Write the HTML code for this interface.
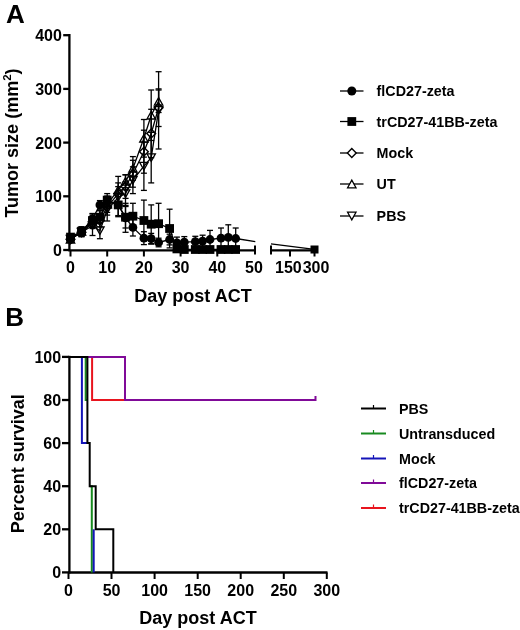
<!DOCTYPE html>
<html><head><meta charset="utf-8"><title>Figure</title>
<style>
html,body{margin:0;padding:0;background:#fff;}
svg{display:block;}
text{font-family:"Liberation Sans",Arial,Helvetica,sans-serif;font-weight:bold;fill:#000;}
</style></head><body>
<svg width="520" height="630" viewBox="0 0 520 630">
<rect width="520" height="630" fill="#fff"/>
<text x="6" y="23.2" font-size="26" text-anchor="start" >A</text>
<line x1="69.4" y1="34.0" x2="69.4" y2="251.0" stroke="#000" stroke-width="2.3"/>
<line x1="68.3" y1="250.3" x2="255.0" y2="250.3" stroke="#000" stroke-width="2.3"/>
<line x1="271.0" y1="250.3" x2="315.0" y2="250.3" stroke="#000" stroke-width="2.3"/>
<line x1="63.2" y1="250.0" x2="69.0" y2="250.0" stroke="#000" stroke-width="2.3"/>
<text x="61.9" y="256.0" font-size="16" text-anchor="end" >0</text>
<line x1="63.2" y1="196.3" x2="69.0" y2="196.3" stroke="#000" stroke-width="2.3"/>
<text x="61.9" y="202.3" font-size="16" text-anchor="end" >100</text>
<line x1="63.2" y1="142.6" x2="69.0" y2="142.6" stroke="#000" stroke-width="2.3"/>
<text x="61.9" y="148.6" font-size="16" text-anchor="end" >200</text>
<line x1="63.2" y1="88.9" x2="69.0" y2="88.9" stroke="#000" stroke-width="2.3"/>
<text x="61.9" y="94.89999999999998" font-size="16" text-anchor="end" >300</text>
<line x1="63.2" y1="35.2" x2="69.0" y2="35.2" stroke="#000" stroke-width="2.3"/>
<text x="61.9" y="41.19999999999999" font-size="16" text-anchor="end" >400</text>
<line x1="70.5" y1="250.0" x2="70.5" y2="256.5" stroke="#000" stroke-width="2"/>
<text x="70.5" y="272.5" font-size="16" text-anchor="middle" >0</text>
<line x1="107.2" y1="250.0" x2="107.2" y2="256.5" stroke="#000" stroke-width="2"/>
<text x="107.2" y="272.5" font-size="16" text-anchor="middle" >10</text>
<line x1="143.9" y1="250.0" x2="143.9" y2="256.5" stroke="#000" stroke-width="2"/>
<text x="143.9" y="272.5" font-size="16" text-anchor="middle" >20</text>
<line x1="180.6" y1="250.0" x2="180.6" y2="256.5" stroke="#000" stroke-width="2"/>
<text x="180.6" y="272.5" font-size="16" text-anchor="middle" >30</text>
<line x1="217.3" y1="250.0" x2="217.3" y2="256.5" stroke="#000" stroke-width="2"/>
<text x="217.3" y="272.5" font-size="16" text-anchor="middle" >40</text>
<text x="254.0" y="272.5" font-size="16" text-anchor="middle" >50</text>
<line x1="255.0" y1="245.5" x2="255.0" y2="254.5" stroke="#000" stroke-width="2"/>
<line x1="271.0" y1="245.5" x2="271.0" y2="254.5" stroke="#000" stroke-width="2"/>
<line x1="290.0" y1="250.0" x2="290.0" y2="256.5" stroke="#000" stroke-width="2"/>
<text x="288.4" y="272.5" font-size="16" text-anchor="middle" >150</text>
<line x1="314.5" y1="250.0" x2="314.5" y2="256.5" stroke="#000" stroke-width="2"/>
<text x="316" y="272.5" font-size="16" text-anchor="middle" >300</text>
<text transform="translate(17.5,143) rotate(-90)" font-size="18" text-anchor="middle">Tumor size (mm<tspan dy="-6.5" font-size="11.5">2</tspan><tspan dy="6.5">)</tspan></text>
<text x="193" y="301.5" font-size="18" text-anchor="middle" >Day post ACT</text>
<line x1="70.5" y1="236.6" x2="70.5" y2="241.9" stroke="#000" stroke-width="1.3"/>
<line x1="67.5" y1="236.6" x2="73.5" y2="236.6" stroke="#000" stroke-width="1.3"/>
<line x1="67.5" y1="241.9" x2="73.5" y2="241.9" stroke="#000" stroke-width="1.3"/>
<line x1="81.5" y1="227.4" x2="81.5" y2="236.0" stroke="#000" stroke-width="1.3"/>
<line x1="78.5" y1="227.4" x2="84.5" y2="227.4" stroke="#000" stroke-width="1.3"/>
<line x1="78.5" y1="236.0" x2="84.5" y2="236.0" stroke="#000" stroke-width="1.3"/>
<line x1="92.5" y1="213.5" x2="92.5" y2="224.2" stroke="#000" stroke-width="1.3"/>
<line x1="89.5" y1="213.5" x2="95.5" y2="213.5" stroke="#000" stroke-width="1.3"/>
<line x1="89.5" y1="224.2" x2="95.5" y2="224.2" stroke="#000" stroke-width="1.3"/>
<line x1="99.9" y1="200.6" x2="99.9" y2="209.2" stroke="#000" stroke-width="1.3"/>
<line x1="96.9" y1="200.6" x2="102.9" y2="200.6" stroke="#000" stroke-width="1.3"/>
<line x1="96.9" y1="209.2" x2="102.9" y2="209.2" stroke="#000" stroke-width="1.3"/>
<line x1="107.2" y1="196.3" x2="107.2" y2="207.0" stroke="#000" stroke-width="1.3"/>
<line x1="104.2" y1="196.3" x2="110.2" y2="196.3" stroke="#000" stroke-width="1.3"/>
<line x1="104.2" y1="207.0" x2="110.2" y2="207.0" stroke="#000" stroke-width="1.3"/>
<line x1="118.2" y1="194.2" x2="118.2" y2="215.6" stroke="#000" stroke-width="1.3"/>
<line x1="115.2" y1="194.2" x2="121.2" y2="194.2" stroke="#000" stroke-width="1.3"/>
<line x1="115.2" y1="215.6" x2="121.2" y2="215.6" stroke="#000" stroke-width="1.3"/>
<line x1="125.5" y1="203.3" x2="125.5" y2="232.3" stroke="#000" stroke-width="1.3"/>
<line x1="122.5" y1="203.3" x2="128.6" y2="203.3" stroke="#000" stroke-width="1.3"/>
<line x1="122.5" y1="232.3" x2="128.6" y2="232.3" stroke="#000" stroke-width="1.3"/>
<line x1="132.9" y1="218.9" x2="132.9" y2="236.0" stroke="#000" stroke-width="1.3"/>
<line x1="129.9" y1="218.9" x2="135.9" y2="218.9" stroke="#000" stroke-width="1.3"/>
<line x1="129.9" y1="236.0" x2="135.9" y2="236.0" stroke="#000" stroke-width="1.3"/>
<line x1="143.9" y1="231.7" x2="143.9" y2="244.6" stroke="#000" stroke-width="1.3"/>
<line x1="140.9" y1="231.7" x2="146.9" y2="231.7" stroke="#000" stroke-width="1.3"/>
<line x1="140.9" y1="244.6" x2="146.9" y2="244.6" stroke="#000" stroke-width="1.3"/>
<line x1="151.2" y1="233.4" x2="151.2" y2="244.1" stroke="#000" stroke-width="1.3"/>
<line x1="148.2" y1="233.4" x2="154.2" y2="233.4" stroke="#000" stroke-width="1.3"/>
<line x1="148.2" y1="244.1" x2="154.2" y2="244.1" stroke="#000" stroke-width="1.3"/>
<line x1="158.6" y1="238.2" x2="158.6" y2="246.8" stroke="#000" stroke-width="1.3"/>
<line x1="155.6" y1="238.2" x2="161.6" y2="238.2" stroke="#000" stroke-width="1.3"/>
<line x1="155.6" y1="246.8" x2="161.6" y2="246.8" stroke="#000" stroke-width="1.3"/>
<line x1="169.6" y1="234.2" x2="169.6" y2="244.9" stroke="#000" stroke-width="1.3"/>
<line x1="166.6" y1="234.2" x2="172.6" y2="234.2" stroke="#000" stroke-width="1.3"/>
<line x1="166.6" y1="244.9" x2="172.6" y2="244.9" stroke="#000" stroke-width="1.3"/>
<line x1="176.9" y1="237.1" x2="176.9" y2="248.4" stroke="#000" stroke-width="1.3"/>
<line x1="173.9" y1="237.1" x2="179.9" y2="237.1" stroke="#000" stroke-width="1.3"/>
<line x1="173.9" y1="248.4" x2="179.9" y2="248.4" stroke="#000" stroke-width="1.3"/>
<line x1="184.3" y1="236.6" x2="184.3" y2="247.9" stroke="#000" stroke-width="1.3"/>
<line x1="181.3" y1="236.6" x2="187.3" y2="236.6" stroke="#000" stroke-width="1.3"/>
<line x1="181.3" y1="247.9" x2="187.3" y2="247.9" stroke="#000" stroke-width="1.3"/>
<line x1="195.3" y1="236.3" x2="195.3" y2="247.0" stroke="#000" stroke-width="1.3"/>
<line x1="192.3" y1="236.3" x2="198.3" y2="236.3" stroke="#000" stroke-width="1.3"/>
<line x1="192.3" y1="247.0" x2="198.3" y2="247.0" stroke="#000" stroke-width="1.3"/>
<line x1="202.6" y1="235.2" x2="202.6" y2="247.0" stroke="#000" stroke-width="1.3"/>
<line x1="199.6" y1="235.2" x2="205.6" y2="235.2" stroke="#000" stroke-width="1.3"/>
<line x1="199.6" y1="247.0" x2="205.6" y2="247.0" stroke="#000" stroke-width="1.3"/>
<line x1="210.0" y1="230.4" x2="210.0" y2="248.7" stroke="#000" stroke-width="1.3"/>
<line x1="207.0" y1="230.4" x2="213.0" y2="230.4" stroke="#000" stroke-width="1.3"/>
<line x1="207.0" y1="248.7" x2="213.0" y2="248.7" stroke="#000" stroke-width="1.3"/>
<line x1="221.0" y1="228.0" x2="221.0" y2="248.4" stroke="#000" stroke-width="1.3"/>
<line x1="218.0" y1="228.0" x2="224.0" y2="228.0" stroke="#000" stroke-width="1.3"/>
<line x1="218.0" y1="248.4" x2="224.0" y2="248.4" stroke="#000" stroke-width="1.3"/>
<line x1="228.3" y1="224.8" x2="228.3" y2="250.0" stroke="#000" stroke-width="1.3"/>
<line x1="225.3" y1="224.8" x2="231.3" y2="224.8" stroke="#000" stroke-width="1.3"/>
<line x1="225.3" y1="250.0" x2="231.3" y2="250.0" stroke="#000" stroke-width="1.3"/>
<line x1="235.7" y1="228.0" x2="235.7" y2="248.9" stroke="#000" stroke-width="1.3"/>
<line x1="232.7" y1="228.0" x2="238.7" y2="228.0" stroke="#000" stroke-width="1.3"/>
<line x1="232.7" y1="248.9" x2="238.7" y2="248.9" stroke="#000" stroke-width="1.3"/>
<polyline points="70.5,239.3 81.5,231.7 92.5,218.9 99.9,204.9 107.2,201.7 118.2,204.9 125.5,217.8 132.9,227.4 143.9,238.2 151.2,238.7 158.6,242.5 169.6,239.5 176.9,242.8 184.3,242.2 195.3,241.7 202.6,241.1 210.0,239.5 221.0,238.2 228.3,237.4 235.7,238.5 255.3,241.7" fill="none" stroke="#000" stroke-width="1.3"/>
<circle cx="70.5" cy="239.3" r="4.4" fill="#000"/>
<circle cx="81.5" cy="231.7" r="4.4" fill="#000"/>
<circle cx="92.5" cy="218.9" r="4.4" fill="#000"/>
<circle cx="99.9" cy="204.9" r="4.4" fill="#000"/>
<circle cx="107.2" cy="201.7" r="4.4" fill="#000"/>
<circle cx="118.2" cy="204.9" r="4.4" fill="#000"/>
<circle cx="125.5" cy="217.8" r="4.4" fill="#000"/>
<circle cx="132.9" cy="227.4" r="4.4" fill="#000"/>
<circle cx="143.9" cy="238.2" r="4.4" fill="#000"/>
<circle cx="151.2" cy="238.7" r="4.4" fill="#000"/>
<circle cx="158.6" cy="242.5" r="4.4" fill="#000"/>
<circle cx="169.6" cy="239.5" r="4.4" fill="#000"/>
<circle cx="176.9" cy="242.8" r="4.4" fill="#000"/>
<circle cx="184.3" cy="242.2" r="4.4" fill="#000"/>
<circle cx="195.3" cy="241.7" r="4.4" fill="#000"/>
<circle cx="202.6" cy="241.1" r="4.4" fill="#000"/>
<circle cx="210.0" cy="239.5" r="4.4" fill="#000"/>
<circle cx="221.0" cy="238.2" r="4.4" fill="#000"/>
<circle cx="228.3" cy="237.4" r="4.4" fill="#000"/>
<circle cx="235.7" cy="238.5" r="4.4" fill="#000"/>
<polyline points="271.0,243.8 314.5,249.3" fill="none" stroke="#000" stroke-width="1.3"/>
<line x1="70.5" y1="233.9" x2="70.5" y2="240.3" stroke="#000" stroke-width="1.3"/>
<line x1="67.5" y1="233.9" x2="73.5" y2="233.9" stroke="#000" stroke-width="1.3"/>
<line x1="67.5" y1="240.3" x2="73.5" y2="240.3" stroke="#000" stroke-width="1.3"/>
<line x1="81.5" y1="226.9" x2="81.5" y2="235.5" stroke="#000" stroke-width="1.3"/>
<line x1="78.5" y1="226.9" x2="84.5" y2="226.9" stroke="#000" stroke-width="1.3"/>
<line x1="78.5" y1="235.5" x2="84.5" y2="235.5" stroke="#000" stroke-width="1.3"/>
<line x1="92.5" y1="214.0" x2="92.5" y2="226.9" stroke="#000" stroke-width="1.3"/>
<line x1="89.5" y1="214.0" x2="95.5" y2="214.0" stroke="#000" stroke-width="1.3"/>
<line x1="89.5" y1="226.9" x2="95.5" y2="226.9" stroke="#000" stroke-width="1.3"/>
<line x1="99.9" y1="210.8" x2="99.9" y2="223.7" stroke="#000" stroke-width="1.3"/>
<line x1="96.9" y1="210.8" x2="102.9" y2="210.8" stroke="#000" stroke-width="1.3"/>
<line x1="96.9" y1="223.7" x2="102.9" y2="223.7" stroke="#000" stroke-width="1.3"/>
<line x1="107.2" y1="193.6" x2="107.2" y2="206.5" stroke="#000" stroke-width="1.3"/>
<line x1="104.2" y1="193.6" x2="110.2" y2="193.6" stroke="#000" stroke-width="1.3"/>
<line x1="104.2" y1="206.5" x2="110.2" y2="206.5" stroke="#000" stroke-width="1.3"/>
<line x1="118.2" y1="193.1" x2="118.2" y2="216.7" stroke="#000" stroke-width="1.3"/>
<line x1="115.2" y1="193.1" x2="121.2" y2="193.1" stroke="#000" stroke-width="1.3"/>
<line x1="115.2" y1="216.7" x2="121.2" y2="216.7" stroke="#000" stroke-width="1.3"/>
<line x1="125.5" y1="206.5" x2="125.5" y2="228.0" stroke="#000" stroke-width="1.3"/>
<line x1="122.5" y1="206.5" x2="128.6" y2="206.5" stroke="#000" stroke-width="1.3"/>
<line x1="122.5" y1="228.0" x2="128.6" y2="228.0" stroke="#000" stroke-width="1.3"/>
<line x1="132.9" y1="203.3" x2="132.9" y2="229.1" stroke="#000" stroke-width="1.3"/>
<line x1="129.9" y1="203.3" x2="135.9" y2="203.3" stroke="#000" stroke-width="1.3"/>
<line x1="129.9" y1="229.1" x2="135.9" y2="229.1" stroke="#000" stroke-width="1.3"/>
<line x1="143.9" y1="200.1" x2="143.9" y2="240.9" stroke="#000" stroke-width="1.3"/>
<line x1="140.9" y1="200.1" x2="146.9" y2="200.1" stroke="#000" stroke-width="1.3"/>
<line x1="140.9" y1="240.9" x2="146.9" y2="240.9" stroke="#000" stroke-width="1.3"/>
<line x1="151.2" y1="204.9" x2="151.2" y2="243.6" stroke="#000" stroke-width="1.3"/>
<line x1="148.2" y1="204.9" x2="154.2" y2="204.9" stroke="#000" stroke-width="1.3"/>
<line x1="148.2" y1="243.6" x2="154.2" y2="243.6" stroke="#000" stroke-width="1.3"/>
<line x1="158.6" y1="203.3" x2="158.6" y2="244.1" stroke="#000" stroke-width="1.3"/>
<line x1="155.6" y1="203.3" x2="161.6" y2="203.3" stroke="#000" stroke-width="1.3"/>
<line x1="155.6" y1="244.1" x2="161.6" y2="244.1" stroke="#000" stroke-width="1.3"/>
<line x1="169.6" y1="209.2" x2="169.6" y2="247.9" stroke="#000" stroke-width="1.3"/>
<line x1="166.6" y1="209.2" x2="172.6" y2="209.2" stroke="#000" stroke-width="1.3"/>
<line x1="166.6" y1="247.9" x2="172.6" y2="247.9" stroke="#000" stroke-width="1.3"/>
<line x1="176.9" y1="247.3" x2="176.9" y2="250.5" stroke="#000" stroke-width="1.3"/>
<line x1="173.9" y1="247.3" x2="179.9" y2="247.3" stroke="#000" stroke-width="1.3"/>
<line x1="173.9" y1="250.5" x2="179.9" y2="250.5" stroke="#000" stroke-width="1.3"/>
<polyline points="70.5,237.1 81.5,231.2 92.5,220.5 99.9,217.2 107.2,200.1 118.2,204.9 125.5,217.2 132.9,216.2 143.9,220.5 151.2,224.2 158.6,223.7 169.6,228.5 176.9,248.9 184.3,249.5 195.3,249.5 202.6,249.5 210.0,249.5 221.0,249.5 228.3,249.5 235.7,249.5" fill="none" stroke="#000" stroke-width="1.3"/>
<rect x="66.1" y="232.7" width="8.8" height="8.8" fill="#000"/>
<rect x="77.1" y="226.8" width="8.8" height="8.8" fill="#000"/>
<rect x="88.1" y="216.1" width="8.8" height="8.8" fill="#000"/>
<rect x="95.5" y="212.8" width="8.8" height="8.8" fill="#000"/>
<rect x="102.8" y="195.7" width="8.8" height="8.8" fill="#000"/>
<rect x="113.8" y="200.5" width="8.8" height="8.8" fill="#000"/>
<rect x="121.1" y="212.8" width="8.8" height="8.8" fill="#000"/>
<rect x="128.5" y="211.8" width="8.8" height="8.8" fill="#000"/>
<rect x="139.5" y="216.1" width="8.8" height="8.8" fill="#000"/>
<rect x="146.8" y="219.8" width="8.8" height="8.8" fill="#000"/>
<rect x="154.2" y="219.3" width="8.8" height="8.8" fill="#000"/>
<rect x="165.2" y="224.1" width="8.8" height="8.8" fill="#000"/>
<rect x="172.5" y="244.5" width="8.8" height="8.8" fill="#000"/>
<rect x="179.9" y="245.1" width="8.8" height="8.8" fill="#000"/>
<rect x="190.9" y="245.1" width="8.8" height="8.8" fill="#000"/>
<rect x="198.2" y="245.1" width="8.8" height="8.8" fill="#000"/>
<rect x="205.6" y="245.1" width="8.8" height="8.8" fill="#000"/>
<rect x="216.6" y="245.1" width="8.8" height="8.8" fill="#000"/>
<rect x="223.9" y="245.1" width="8.8" height="8.8" fill="#000"/>
<rect x="231.2" y="245.1" width="8.8" height="8.8" fill="#000"/>
<rect x="310.5" y="245.5" width="8" height="8" fill="#000"/>
<line x1="70.5" y1="236.6" x2="70.5" y2="241.9" stroke="#000" stroke-width="1.3"/>
<line x1="67.5" y1="236.6" x2="73.5" y2="236.6" stroke="#000" stroke-width="1.3"/>
<line x1="67.5" y1="241.9" x2="73.5" y2="241.9" stroke="#000" stroke-width="1.3"/>
<line x1="81.5" y1="228.0" x2="81.5" y2="236.6" stroke="#000" stroke-width="1.3"/>
<line x1="78.5" y1="228.0" x2="84.5" y2="228.0" stroke="#000" stroke-width="1.3"/>
<line x1="78.5" y1="236.6" x2="84.5" y2="236.6" stroke="#000" stroke-width="1.3"/>
<line x1="92.5" y1="217.8" x2="92.5" y2="228.5" stroke="#000" stroke-width="1.3"/>
<line x1="89.5" y1="217.8" x2="95.5" y2="217.8" stroke="#000" stroke-width="1.3"/>
<line x1="89.5" y1="228.5" x2="95.5" y2="228.5" stroke="#000" stroke-width="1.3"/>
<line x1="99.9" y1="214.0" x2="99.9" y2="226.9" stroke="#000" stroke-width="1.3"/>
<line x1="96.9" y1="214.0" x2="102.9" y2="214.0" stroke="#000" stroke-width="1.3"/>
<line x1="96.9" y1="226.9" x2="102.9" y2="226.9" stroke="#000" stroke-width="1.3"/>
<line x1="107.2" y1="199.0" x2="107.2" y2="215.1" stroke="#000" stroke-width="1.3"/>
<line x1="104.2" y1="199.0" x2="110.2" y2="199.0" stroke="#000" stroke-width="1.3"/>
<line x1="104.2" y1="215.1" x2="110.2" y2="215.1" stroke="#000" stroke-width="1.3"/>
<line x1="118.2" y1="182.9" x2="118.2" y2="204.4" stroke="#000" stroke-width="1.3"/>
<line x1="115.2" y1="182.9" x2="121.2" y2="182.9" stroke="#000" stroke-width="1.3"/>
<line x1="115.2" y1="204.4" x2="121.2" y2="204.4" stroke="#000" stroke-width="1.3"/>
<line x1="125.5" y1="174.8" x2="125.5" y2="198.4" stroke="#000" stroke-width="1.3"/>
<line x1="122.5" y1="174.8" x2="128.6" y2="174.8" stroke="#000" stroke-width="1.3"/>
<line x1="122.5" y1="198.4" x2="128.6" y2="198.4" stroke="#000" stroke-width="1.3"/>
<line x1="132.9" y1="160.3" x2="132.9" y2="187.2" stroke="#000" stroke-width="1.3"/>
<line x1="129.9" y1="160.3" x2="135.9" y2="160.3" stroke="#000" stroke-width="1.3"/>
<line x1="129.9" y1="187.2" x2="135.9" y2="187.2" stroke="#000" stroke-width="1.3"/>
<line x1="143.9" y1="130.2" x2="143.9" y2="173.2" stroke="#000" stroke-width="1.3"/>
<line x1="140.9" y1="130.2" x2="146.9" y2="130.2" stroke="#000" stroke-width="1.3"/>
<line x1="140.9" y1="173.2" x2="146.9" y2="173.2" stroke="#000" stroke-width="1.3"/>
<line x1="151.2" y1="109.3" x2="151.2" y2="157.6" stroke="#000" stroke-width="1.3"/>
<line x1="148.2" y1="109.3" x2="154.2" y2="109.3" stroke="#000" stroke-width="1.3"/>
<line x1="148.2" y1="157.6" x2="154.2" y2="157.6" stroke="#000" stroke-width="1.3"/>
<line x1="158.6" y1="88.9" x2="158.6" y2="126.5" stroke="#000" stroke-width="1.3"/>
<line x1="155.6" y1="88.9" x2="161.6" y2="88.9" stroke="#000" stroke-width="1.3"/>
<line x1="155.6" y1="126.5" x2="161.6" y2="126.5" stroke="#000" stroke-width="1.3"/>
<polyline points="70.5,239.3 81.5,232.3 92.5,223.2 99.9,220.5 107.2,207.0 118.2,193.6 125.5,186.6 132.9,173.7 143.9,151.7 151.2,133.5 158.6,107.7" fill="none" stroke="#000" stroke-width="1.3"/>
<polygon points="66.1,239.3 70.5,234.9 74.9,239.3 70.5,243.7" fill="none" stroke="#000" stroke-width="1.4"/>
<polygon points="77.1,232.3 81.5,227.9 85.9,232.3 81.5,236.7" fill="none" stroke="#000" stroke-width="1.4"/>
<polygon points="88.1,223.2 92.5,218.8 96.9,223.2 92.5,227.6" fill="none" stroke="#000" stroke-width="1.4"/>
<polygon points="95.5,220.5 99.9,216.1 104.3,220.5 99.9,224.9" fill="none" stroke="#000" stroke-width="1.4"/>
<polygon points="102.8,207.0 107.2,202.6 111.6,207.0 107.2,211.4" fill="none" stroke="#000" stroke-width="1.4"/>
<polygon points="113.8,193.6 118.2,189.2 122.6,193.6 118.2,198.0" fill="none" stroke="#000" stroke-width="1.4"/>
<polygon points="121.1,186.6 125.5,182.2 129.9,186.6 125.5,191.0" fill="none" stroke="#000" stroke-width="1.4"/>
<polygon points="128.5,173.7 132.9,169.3 137.3,173.7 132.9,178.1" fill="none" stroke="#000" stroke-width="1.4"/>
<polygon points="139.5,151.7 143.9,147.3 148.3,151.7 143.9,156.1" fill="none" stroke="#000" stroke-width="1.4"/>
<polygon points="146.8,133.5 151.2,129.1 155.6,133.5 151.2,137.9" fill="none" stroke="#000" stroke-width="1.4"/>
<polygon points="154.2,107.7 158.6,103.3 163.0,107.7 158.6,112.1" fill="none" stroke="#000" stroke-width="1.4"/>
<line x1="70.5" y1="236.6" x2="70.5" y2="241.9" stroke="#000" stroke-width="1.3"/>
<line x1="67.5" y1="236.6" x2="73.5" y2="236.6" stroke="#000" stroke-width="1.3"/>
<line x1="67.5" y1="241.9" x2="73.5" y2="241.9" stroke="#000" stroke-width="1.3"/>
<line x1="81.5" y1="226.9" x2="81.5" y2="235.5" stroke="#000" stroke-width="1.3"/>
<line x1="78.5" y1="226.9" x2="84.5" y2="226.9" stroke="#000" stroke-width="1.3"/>
<line x1="78.5" y1="235.5" x2="84.5" y2="235.5" stroke="#000" stroke-width="1.3"/>
<line x1="92.5" y1="216.7" x2="92.5" y2="227.4" stroke="#000" stroke-width="1.3"/>
<line x1="89.5" y1="216.7" x2="95.5" y2="216.7" stroke="#000" stroke-width="1.3"/>
<line x1="89.5" y1="227.4" x2="95.5" y2="227.4" stroke="#000" stroke-width="1.3"/>
<line x1="99.9" y1="210.3" x2="99.9" y2="223.2" stroke="#000" stroke-width="1.3"/>
<line x1="96.9" y1="210.3" x2="102.9" y2="210.3" stroke="#000" stroke-width="1.3"/>
<line x1="96.9" y1="223.2" x2="102.9" y2="223.2" stroke="#000" stroke-width="1.3"/>
<line x1="107.2" y1="196.3" x2="107.2" y2="212.4" stroke="#000" stroke-width="1.3"/>
<line x1="104.2" y1="196.3" x2="110.2" y2="196.3" stroke="#000" stroke-width="1.3"/>
<line x1="104.2" y1="212.4" x2="110.2" y2="212.4" stroke="#000" stroke-width="1.3"/>
<line x1="118.2" y1="176.4" x2="118.2" y2="203.3" stroke="#000" stroke-width="1.3"/>
<line x1="115.2" y1="176.4" x2="121.2" y2="176.4" stroke="#000" stroke-width="1.3"/>
<line x1="115.2" y1="203.3" x2="121.2" y2="203.3" stroke="#000" stroke-width="1.3"/>
<line x1="125.5" y1="174.8" x2="125.5" y2="187.7" stroke="#000" stroke-width="1.3"/>
<line x1="122.5" y1="174.8" x2="128.6" y2="174.8" stroke="#000" stroke-width="1.3"/>
<line x1="122.5" y1="187.7" x2="128.6" y2="187.7" stroke="#000" stroke-width="1.3"/>
<line x1="132.9" y1="156.6" x2="132.9" y2="180.2" stroke="#000" stroke-width="1.3"/>
<line x1="129.9" y1="156.6" x2="135.9" y2="156.6" stroke="#000" stroke-width="1.3"/>
<line x1="129.9" y1="180.2" x2="135.9" y2="180.2" stroke="#000" stroke-width="1.3"/>
<line x1="143.9" y1="119.5" x2="143.9" y2="157.1" stroke="#000" stroke-width="1.3"/>
<line x1="140.9" y1="119.5" x2="146.9" y2="119.5" stroke="#000" stroke-width="1.3"/>
<line x1="140.9" y1="157.1" x2="146.9" y2="157.1" stroke="#000" stroke-width="1.3"/>
<line x1="151.2" y1="90.0" x2="151.2" y2="140.5" stroke="#000" stroke-width="1.3"/>
<line x1="148.2" y1="90.0" x2="154.2" y2="90.0" stroke="#000" stroke-width="1.3"/>
<line x1="148.2" y1="140.5" x2="154.2" y2="140.5" stroke="#000" stroke-width="1.3"/>
<line x1="158.6" y1="90.0" x2="158.6" y2="112.5" stroke="#000" stroke-width="1.3"/>
<line x1="155.6" y1="90.0" x2="161.6" y2="90.0" stroke="#000" stroke-width="1.3"/>
<line x1="155.6" y1="112.5" x2="161.6" y2="112.5" stroke="#000" stroke-width="1.3"/>
<polyline points="70.5,239.3 81.5,231.2 92.5,222.1 99.9,216.7 107.2,204.4 118.2,189.9 125.5,181.3 132.9,168.4 143.9,138.3 151.2,115.2 158.6,101.3" fill="none" stroke="#000" stroke-width="1.3"/>
<polygon points="66.3,243.1 70.5,235.5 74.7,243.1" fill="none" stroke="#000" stroke-width="1.3" stroke-linejoin="miter"/>
<polygon points="77.3,235.0 81.5,227.4 85.7,235.0" fill="none" stroke="#000" stroke-width="1.3" stroke-linejoin="miter"/>
<polygon points="88.3,225.9 92.5,218.3 96.7,225.9" fill="none" stroke="#000" stroke-width="1.3" stroke-linejoin="miter"/>
<polygon points="95.7,220.5 99.9,212.9 104.1,220.5" fill="none" stroke="#000" stroke-width="1.3" stroke-linejoin="miter"/>
<polygon points="103.0,208.2 107.2,200.6 111.4,208.2" fill="none" stroke="#000" stroke-width="1.3" stroke-linejoin="miter"/>
<polygon points="114.0,193.7 118.2,186.1 122.4,193.7" fill="none" stroke="#000" stroke-width="1.3" stroke-linejoin="miter"/>
<polygon points="121.3,185.1 125.5,177.5 129.8,185.1" fill="none" stroke="#000" stroke-width="1.3" stroke-linejoin="miter"/>
<polygon points="128.7,172.2 132.9,164.6 137.1,172.2" fill="none" stroke="#000" stroke-width="1.3" stroke-linejoin="miter"/>
<polygon points="139.7,142.1 143.9,134.5 148.1,142.1" fill="none" stroke="#000" stroke-width="1.3" stroke-linejoin="miter"/>
<polygon points="147.0,119.0 151.2,111.4 155.4,119.0" fill="none" stroke="#000" stroke-width="1.3" stroke-linejoin="miter"/>
<polygon points="154.4,105.1 158.6,97.5 162.8,105.1" fill="none" stroke="#000" stroke-width="1.3" stroke-linejoin="miter"/>
<line x1="70.5" y1="236.6" x2="70.5" y2="241.9" stroke="#000" stroke-width="1.3"/>
<line x1="67.5" y1="236.6" x2="73.5" y2="236.6" stroke="#000" stroke-width="1.3"/>
<line x1="67.5" y1="241.9" x2="73.5" y2="241.9" stroke="#000" stroke-width="1.3"/>
<line x1="81.5" y1="228.0" x2="81.5" y2="236.6" stroke="#000" stroke-width="1.3"/>
<line x1="78.5" y1="228.0" x2="84.5" y2="228.0" stroke="#000" stroke-width="1.3"/>
<line x1="78.5" y1="236.6" x2="84.5" y2="236.6" stroke="#000" stroke-width="1.3"/>
<line x1="92.5" y1="216.2" x2="92.5" y2="235.5" stroke="#000" stroke-width="1.3"/>
<line x1="89.5" y1="216.2" x2="95.5" y2="216.2" stroke="#000" stroke-width="1.3"/>
<line x1="89.5" y1="235.5" x2="95.5" y2="235.5" stroke="#000" stroke-width="1.3"/>
<line x1="99.9" y1="222.6" x2="99.9" y2="238.7" stroke="#000" stroke-width="1.3"/>
<line x1="96.9" y1="222.6" x2="102.9" y2="222.6" stroke="#000" stroke-width="1.3"/>
<line x1="96.9" y1="238.7" x2="102.9" y2="238.7" stroke="#000" stroke-width="1.3"/>
<line x1="107.2" y1="198.4" x2="107.2" y2="221.0" stroke="#000" stroke-width="1.3"/>
<line x1="104.2" y1="198.4" x2="110.2" y2="198.4" stroke="#000" stroke-width="1.3"/>
<line x1="104.2" y1="221.0" x2="110.2" y2="221.0" stroke="#000" stroke-width="1.3"/>
<line x1="118.2" y1="186.6" x2="118.2" y2="208.1" stroke="#000" stroke-width="1.3"/>
<line x1="115.2" y1="186.6" x2="121.2" y2="186.6" stroke="#000" stroke-width="1.3"/>
<line x1="115.2" y1="208.1" x2="121.2" y2="208.1" stroke="#000" stroke-width="1.3"/>
<line x1="125.5" y1="181.8" x2="125.5" y2="205.4" stroke="#000" stroke-width="1.3"/>
<line x1="122.5" y1="181.8" x2="128.6" y2="181.8" stroke="#000" stroke-width="1.3"/>
<line x1="122.5" y1="205.4" x2="128.6" y2="205.4" stroke="#000" stroke-width="1.3"/>
<line x1="132.9" y1="166.8" x2="132.9" y2="193.6" stroke="#000" stroke-width="1.3"/>
<line x1="129.9" y1="166.8" x2="135.9" y2="166.8" stroke="#000" stroke-width="1.3"/>
<line x1="129.9" y1="193.6" x2="135.9" y2="193.6" stroke="#000" stroke-width="1.3"/>
<line x1="143.9" y1="142.1" x2="143.9" y2="190.4" stroke="#000" stroke-width="1.3"/>
<line x1="140.9" y1="142.1" x2="146.9" y2="142.1" stroke="#000" stroke-width="1.3"/>
<line x1="140.9" y1="190.4" x2="146.9" y2="190.4" stroke="#000" stroke-width="1.3"/>
<line x1="151.2" y1="132.4" x2="151.2" y2="182.9" stroke="#000" stroke-width="1.3"/>
<line x1="148.2" y1="132.4" x2="154.2" y2="132.4" stroke="#000" stroke-width="1.3"/>
<line x1="148.2" y1="182.9" x2="154.2" y2="182.9" stroke="#000" stroke-width="1.3"/>
<line x1="158.6" y1="71.7" x2="158.6" y2="149.0" stroke="#000" stroke-width="1.3"/>
<line x1="155.6" y1="71.7" x2="161.6" y2="71.7" stroke="#000" stroke-width="1.3"/>
<line x1="155.6" y1="149.0" x2="161.6" y2="149.0" stroke="#000" stroke-width="1.3"/>
<polyline points="70.5,239.3 81.5,232.3 92.5,225.8 99.9,230.7 107.2,209.7 118.2,197.4 125.5,193.6 132.9,180.2 143.9,166.2 151.2,157.6 158.6,110.4" fill="none" stroke="#000" stroke-width="1.3"/>
<polygon points="66.3,235.5 70.5,243.1 74.7,235.5" fill="none" stroke="#000" stroke-width="1.3" stroke-linejoin="miter"/>
<polygon points="77.3,228.5 81.5,236.1 85.7,228.5" fill="none" stroke="#000" stroke-width="1.3" stroke-linejoin="miter"/>
<polygon points="88.3,222.0 92.5,229.6 96.7,222.0" fill="none" stroke="#000" stroke-width="1.3" stroke-linejoin="miter"/>
<polygon points="95.7,226.9 99.9,234.5 104.1,226.9" fill="none" stroke="#000" stroke-width="1.3" stroke-linejoin="miter"/>
<polygon points="103.0,205.9 107.2,213.5 111.4,205.9" fill="none" stroke="#000" stroke-width="1.3" stroke-linejoin="miter"/>
<polygon points="114.0,193.6 118.2,201.2 122.4,193.6" fill="none" stroke="#000" stroke-width="1.3" stroke-linejoin="miter"/>
<polygon points="121.3,189.8 125.5,197.4 129.8,189.8" fill="none" stroke="#000" stroke-width="1.3" stroke-linejoin="miter"/>
<polygon points="128.7,176.4 132.9,184.0 137.1,176.4" fill="none" stroke="#000" stroke-width="1.3" stroke-linejoin="miter"/>
<polygon points="139.7,162.4 143.9,170.0 148.1,162.4" fill="none" stroke="#000" stroke-width="1.3" stroke-linejoin="miter"/>
<polygon points="147.0,153.8 151.2,161.4 155.4,153.8" fill="none" stroke="#000" stroke-width="1.3" stroke-linejoin="miter"/>
<polygon points="154.4,106.6 158.6,114.2 162.8,106.6" fill="none" stroke="#000" stroke-width="1.3" stroke-linejoin="miter"/>
<line x1="340.0" y1="91.0" x2="363.5" y2="91.0" stroke="#000" stroke-width="1.3"/>
<circle cx="351.8" cy="91.0" r="4.5" fill="#000"/>
<text x="376.6" y="96" font-size="14.3" text-anchor="start" >flCD27-zeta</text>
<line x1="340.0" y1="121.5" x2="363.5" y2="121.5" stroke="#000" stroke-width="1.3"/>
<rect x="347.4" y="117.1" width="8.8" height="8.8" fill="#000"/>
<text x="376.6" y="126.5" font-size="14.3" text-anchor="start" >trCD27-41BB-zeta</text>
<line x1="340.0" y1="153.0" x2="363.5" y2="153.0" stroke="#000" stroke-width="1.3"/>
<polygon points="347.4,153.0 351.8,148.6 356.2,153.0 351.8,157.4" fill="#fff" stroke="#000" stroke-width="1.4"/>
<text x="376.6" y="158" font-size="14.3" text-anchor="start" >Mock</text>
<line x1="340.0" y1="184.0" x2="363.5" y2="184.0" stroke="#000" stroke-width="1.3"/>
<polygon points="347.6,187.8 351.8,180.2 356.0,187.8" fill="#fff" stroke="#000" stroke-width="1.3" stroke-linejoin="miter"/>
<text x="376.6" y="189" font-size="14.3" text-anchor="start" >UT</text>
<line x1="340.0" y1="216.0" x2="363.5" y2="216.0" stroke="#000" stroke-width="1.3"/>
<polygon points="347.6,212.2 351.8,219.8 356.0,212.2" fill="#fff" stroke="#000" stroke-width="1.3" stroke-linejoin="miter"/>
<text x="376.6" y="221" font-size="14.3" text-anchor="start" >PBS</text>
<text x="5.3" y="326" font-size="26" text-anchor="start" >B</text>
<line x1="69.4" y1="355.8" x2="69.4" y2="573.5" stroke="#000" stroke-width="2.3"/>
<line x1="68.3" y1="572.5" x2="327.5" y2="572.5" stroke="#000" stroke-width="2.3"/>
<line x1="62.0" y1="572.4" x2="69.0" y2="572.4" stroke="#000" stroke-width="2.3"/>
<text x="61.1" y="578.4" font-size="16" text-anchor="end" >0</text>
<line x1="62.0" y1="529.3" x2="69.0" y2="529.3" stroke="#000" stroke-width="2.3"/>
<text x="61.1" y="535.3" font-size="16" text-anchor="end" >20</text>
<line x1="62.0" y1="486.2" x2="69.0" y2="486.2" stroke="#000" stroke-width="2.3"/>
<text x="61.1" y="492.2" font-size="16" text-anchor="end" >40</text>
<line x1="62.0" y1="443.1" x2="69.0" y2="443.1" stroke="#000" stroke-width="2.3"/>
<text x="61.1" y="449.1" font-size="16" text-anchor="end" >60</text>
<line x1="62.0" y1="400.0" x2="69.0" y2="400.0" stroke="#000" stroke-width="2.3"/>
<text x="61.1" y="406.0" font-size="16" text-anchor="end" >80</text>
<line x1="62.0" y1="356.9" x2="69.0" y2="356.9" stroke="#000" stroke-width="2.3"/>
<text x="61.1" y="362.9" font-size="16" text-anchor="end" >100</text>
<line x1="68.5" y1="572.5" x2="68.5" y2="579.0" stroke="#000" stroke-width="2"/>
<text x="68.5" y="596" font-size="16" text-anchor="middle" >0</text>
<line x1="111.5" y1="572.5" x2="111.5" y2="579.0" stroke="#000" stroke-width="2"/>
<text x="111.55" y="596" font-size="16" text-anchor="middle" >50</text>
<line x1="154.6" y1="572.5" x2="154.6" y2="579.0" stroke="#000" stroke-width="2"/>
<text x="154.6" y="596" font-size="16" text-anchor="middle" >100</text>
<line x1="197.7" y1="572.5" x2="197.7" y2="579.0" stroke="#000" stroke-width="2"/>
<text x="197.65" y="596" font-size="16" text-anchor="middle" >150</text>
<line x1="240.7" y1="572.5" x2="240.7" y2="579.0" stroke="#000" stroke-width="2"/>
<text x="240.7" y="596" font-size="16" text-anchor="middle" >200</text>
<line x1="283.8" y1="572.5" x2="283.8" y2="579.0" stroke="#000" stroke-width="2"/>
<text x="283.75" y="596" font-size="16" text-anchor="middle" >250</text>
<line x1="326.8" y1="572.5" x2="326.8" y2="579.0" stroke="#000" stroke-width="2"/>
<text x="326.8" y="596" font-size="16" text-anchor="middle" >300</text>
<text transform="translate(23.8,463.8) rotate(-90)" font-size="18" text-anchor="middle">Percent survival</text>
<text x="198" y="624" font-size="18" text-anchor="middle" >Day post ACT</text>
<polyline points="69.0,356.9 85.7,356.9 85.7,400.0 87.4,400.0" fill="none" stroke="#188a20" stroke-width="2"/>
<polyline points="89.8,486.2 91.8,486.2 91.8,572.4" fill="none" stroke="#188a20" stroke-width="2"/>
<polyline points="69.0,356.9 81.9,356.9 81.9,443.1 87.4,443.1" fill="none" stroke="#1414b8" stroke-width="2"/>
<polyline points="93.7,529.3 93.7,572.4" fill="none" stroke="#1414b8" stroke-width="2"/>
<polyline points="69.0,356.9 92.1,356.9 92.1,400.0 315.0,400.0" fill="none" stroke="#e8141e" stroke-width="2"/>
<polyline points="69.0,356.9 125.0,356.9 125.0,400.0 315.5,400.0 315.5,396.0" fill="none" stroke="#800a98" stroke-width="2"/>
<polyline points="69.0,356.9 87.4,356.9 87.4,443.1 89.7,443.1 89.7,486.2 95.7,486.2 95.7,529.3 113.3,529.3 113.3,572.4" fill="none" stroke="#000" stroke-width="2"/>
<line x1="361.0" y1="408.5" x2="386.0" y2="408.5" stroke="#000" stroke-width="2"/>
<line x1="373.5" y1="405.0" x2="373.5" y2="408.5" stroke="#000" stroke-width="1.2"/>
<text x="399" y="413.5" font-size="14.3" text-anchor="start" >PBS</text>
<line x1="361.0" y1="433.5" x2="386.0" y2="433.5" stroke="#188a20" stroke-width="2"/>
<line x1="373.5" y1="430.0" x2="373.5" y2="433.5" stroke="#188a20" stroke-width="1.2"/>
<text x="399" y="438.5" font-size="14.3" text-anchor="start" >Untransduced</text>
<line x1="361.0" y1="458.5" x2="386.0" y2="458.5" stroke="#1414b8" stroke-width="2"/>
<line x1="373.5" y1="455.0" x2="373.5" y2="458.5" stroke="#1414b8" stroke-width="1.2"/>
<text x="399" y="463.5" font-size="14.3" text-anchor="start" >Mock</text>
<line x1="361.0" y1="483.0" x2="386.0" y2="483.0" stroke="#800a98" stroke-width="2"/>
<line x1="373.5" y1="479.5" x2="373.5" y2="483.0" stroke="#800a98" stroke-width="1.2"/>
<text x="399" y="488" font-size="14.3" text-anchor="start" >flCD27-zeta</text>
<line x1="361.0" y1="508.0" x2="386.0" y2="508.0" stroke="#e8141e" stroke-width="2"/>
<line x1="373.5" y1="504.5" x2="373.5" y2="508.0" stroke="#e8141e" stroke-width="1.2"/>
<text x="399" y="513" font-size="14.3" text-anchor="start" >trCD27-41BB-zeta</text>
</svg>
</body></html>
